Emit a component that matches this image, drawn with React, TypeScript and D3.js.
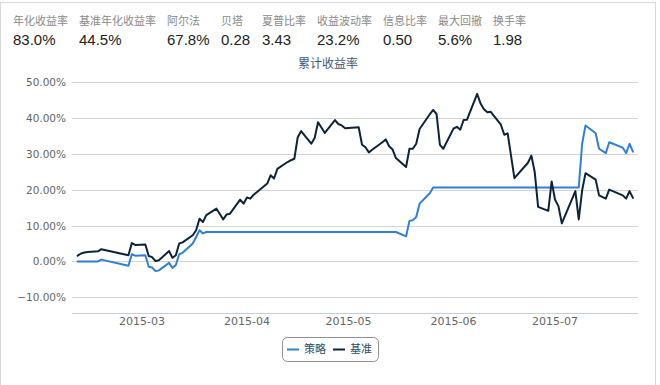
import React from 'react'
import * as d3 from 'd3'

const statLabels = ['年化收益率', '基准年化收益率', '阿尔法', '贝塔', '夏普比率', '收益波动率', '信息比率', '最大回撤', '换手率']
const statValues = ['83.0%', '44.5%', '67.8%', '0.28', '3.43', '23.2%', '0.50', '5.6%', '1.98']

const chartTitle = '累计收益率'
const seriesNames = ['策略', '基准']
const yTicks = [-10, 0, 10, 20, 30, 40, 50]
const monthTicks = ['2015-03-01', '2015-04-01', '2015-05-01', '2015-06-01', '2015-07-01']

// 策略 (strategy), cumulative return in %
const strategyDates = [
  '2015-02-10', '2015-02-16', '2015-02-17', '2015-02-25', '2015-02-26', '2015-02-27',
  '2015-03-02', '2015-03-03', '2015-03-04', '2015-03-05', '2015-03-06', '2015-03-09',
  '2015-03-10', '2015-03-11', '2015-03-12', '2015-03-13', '2015-03-16', '2015-03-17',
  '2015-03-18', '2015-03-19', '2015-03-20', '2015-05-15', '2015-05-18', '2015-05-19',
  '2015-05-20', '2015-05-21', '2015-05-22', '2015-05-25', '2015-05-26', '2015-07-08',
  '2015-07-09', '2015-07-10', '2015-07-13', '2015-07-14', '2015-07-16', '2015-07-17',
  '2015-07-21', '2015-07-22', '2015-07-23', '2015-07-24'
]
const strategyValues = [
  0.0, 0.0, 0.5, -1.2, 2.0, 1.6,
  1.7, -1.5, -1.7, -2.7, -2.5, -0.4,
  -1.8, -1.0, 2.0, 2.4, 5.0, 6.8,
  8.7, 7.8, 8.2, 8.2, 7.0, 11.3,
  11.5, 12.4, 16.1, 19.0, 20.6, 20.6,
  32.8, 37.9, 35.7, 31.4, 30.2, 33.2,
  31.7, 30.2, 32.8, 30.6
]

// 基准 (benchmark), cumulative return in %
const benchmarkDates = [
  '2015-02-10', '2015-02-11', '2015-02-12', '2015-02-13', '2015-02-16', '2015-02-17',
  '2015-02-25', '2015-02-26', '2015-02-27', '2015-03-02', '2015-03-03', '2015-03-04',
  '2015-03-05', '2015-03-06', '2015-03-09', '2015-03-10', '2015-03-11', '2015-03-12',
  '2015-03-13', '2015-03-16', '2015-03-17', '2015-03-18', '2015-03-19', '2015-03-20',
  '2015-03-23', '2015-03-24', '2015-03-25', '2015-03-26', '2015-03-27', '2015-03-30',
  '2015-03-31', '2015-04-01', '2015-04-02', '2015-04-03', '2015-04-07', '2015-04-08',
  '2015-04-09', '2015-04-10', '2015-04-13', '2015-04-14', '2015-04-15', '2015-04-16',
  '2015-04-17', '2015-04-20', '2015-04-21', '2015-04-22', '2015-04-23', '2015-04-24',
  '2015-04-27', '2015-04-28', '2015-04-29', '2015-04-30', '2015-05-04', '2015-05-05',
  '2015-05-06', '2015-05-07', '2015-05-08', '2015-05-11', '2015-05-12', '2015-05-13',
  '2015-05-14', '2015-05-15', '2015-05-18', '2015-05-19', '2015-05-20', '2015-05-21',
  '2015-05-22', '2015-05-25', '2015-05-26', '2015-05-27', '2015-05-28', '2015-05-29',
  '2015-06-01', '2015-06-02', '2015-06-03', '2015-06-04', '2015-06-05', '2015-06-08',
  '2015-06-09', '2015-06-10', '2015-06-11', '2015-06-12', '2015-06-15', '2015-06-16',
  '2015-06-17', '2015-06-19', '2015-06-23', '2015-06-24', '2015-06-25', '2015-06-26',
  '2015-06-29', '2015-06-30', '2015-07-01', '2015-07-02', '2015-07-03', '2015-07-07',
  '2015-07-08', '2015-07-09', '2015-07-10', '2015-07-13', '2015-07-14', '2015-07-16',
  '2015-07-17', '2015-07-21', '2015-07-22', '2015-07-23', '2015-07-24'
]
const benchmarkValues = [
  1.6, 2.2, 2.5, 2.6, 2.8, 3.4,
  1.7, 5.1, 4.6, 4.7, 1.5, 1.2,
  0.1, 0.3, 2.9, 1.0, 1.7, 5.0,
  5.3, 7.3, 8.7, 11.9, 11.0, 12.9,
  14.7, 13.2, 11.7, 13.1, 13.3, 17.2,
  16.1, 17.8, 17.5, 18.6, 21.7, 24.0,
  23.1, 25.8, 27.7, 28.2, 28.6, 34.6,
  36.3, 32.8, 34.4, 38.8, 37.3, 35.8,
  39.4, 38.3, 37.9, 37.1, 37.4, 32.5,
  31.8, 30.4, 31.1, 33.2, 34.0, 32.1,
  31.2, 28.8, 26.3, 31.4, 31.4, 32.8,
  36.9, 41.0, 42.2, 41.1, 32.5, 31.4,
  37.0, 37.5, 36.7, 39.4, 39.5, 46.7,
  44.0, 42.4, 41.6, 41.7, 38.1, 35.3,
  35.7, 23.2, 27.5, 29.5, 24.9, 15.2,
  14.1, 22.3, 17.2, 15.4, 10.6, 19.6,
  11.7, 19.8, 24.6, 22.8, 18.4, 17.5,
  20.0, 18.4, 17.5, 19.6, 17.7
]

const width = 660
const height = 385
const parseDate = d3.utcParse('%Y-%m-%d')
const cjk = '"Noto Sans CJK SC", sans-serif'
const axisFont = '"DejaVu Sans", Verdana, sans-serif'

function drawChart(svgRef: React.RefObject<SVGSVGElement>) {
  const svg = d3.select(svgRef.current)
  svg.selectAll('*').remove()

  // panel frame
  svg.append('rect')
    .attr('x', 0.5).attr('y', 2.5)
    .attr('width', 655).attr('height', 420)
    .attr('fill', '#fff')
    .attr('stroke', '#d8d8d8')

  // header stats
  const statX = [13, 79, 167, 221, 262, 317, 383, 438, 493]
  const stats = svg.append('g')
    .selectAll('g')
    .data(statLabels)
    .join('g')
      .attr('transform', (d, i) => `translate(${statX[i]},0)`)

  stats.append('text')
    .attr('y', 25)
    .attr('font-family', cjk)
    .attr('font-size', 11)
    .attr('fill', '#8a8a8a')
    .text(d => d)

  stats.append('text')
    .attr('y', 45)
    .attr('font-family', '"Liberation Sans", Arial, sans-serif')
    .attr('font-size', 15)
    .attr('fill', '#222')
    .text((d, i) => statValues[i])

  const left = 72
  const right = 638
  const top = 82
  const bottom = 313

  const x = d3.scaleUtc()
    .domain([Date.UTC(2015, 1, 8, 8), Date.UTC(2015, 6, 25, 12)])
    .range([left, right])

  const y = d3.scaleLinear()
    .domain([-10, 50])
    .range([297.3, top])

  // title
  svg.append('text')
    .attr('x', 328).attr('y', 68)
    .attr('text-anchor', 'middle')
    .attr('font-family', cjk)
    .attr('font-size', 12)
    .attr('fill', '#3e576f')
    .text(chartTitle)

  // grid + y labels
  const grid = svg.append('g')
    .selectAll('g')
    .data(yTicks)
    .join('g')
      .attr('transform', d => `translate(0,${Math.round(y(d)) + 0.5})`)

  grid.append('line')
    .attr('x1', left).attr('x2', right)
    .attr('stroke', '#d4d4d4')

  grid.append('text')
    .attr('x', 66)
    .attr('dy', '0.35em')
    .attr('text-anchor', 'end')
    .attr('font-family', axisFont)
    .attr('font-size', 10.5)
    .attr('fill', '#666')
    .text(d => d3.format('.2f')(d) + '%')

  // x axis
  svg.append('line')
    .attr('x1', left).attr('x2', right)
    .attr('y1', bottom + 0.5).attr('y2', bottom + 0.5)
    .attr('stroke', '#c0d0e0')

  svg.append('g')
    .selectAll('text')
    .data(monthTicks.map(d => parseDate(d)!))
    .join('text')
      .attr('x', d => x(d))
      .attr('y', 325)
      .attr('text-anchor', 'middle')
      .attr('font-family', axisFont)
      .attr('font-size', 11)
      .attr('fill', '#666')
      .text(d => d3.utcFormat('%Y-%m')(d))

  // series
  const line = d3.line<[Date, number]>()
    .x(d => x(d[0]))
    .y(d => y(d[1]))

  const series = [
    { name: seriesNames[0], color: '#2f7ed8', points: strategyDates.map((d, i) => [parseDate(d)!, strategyValues[i]] as [Date, number]) },
    { name: seriesNames[1], color: '#0d233a', points: benchmarkDates.map((d, i) => [parseDate(d)!, benchmarkValues[i]] as [Date, number]) }
  ]

  svg.append('g')
    .selectAll('path')
    .data(series)
    .join('path')
      .attr('fill', 'none')
      .attr('stroke', d => d.color)
      .attr('stroke-width', 2)
      .attr('stroke-linejoin', 'round')
      .attr('stroke-linecap', 'round')
      .attr('d', d => line(d.points))

  // legend
  svg.append('rect')
    .attr('x', 282.5).attr('y', 337.5)
    .attr('width', 96).attr('height', 24)
    .attr('rx', 5)
    .attr('fill', 'none')
    .attr('stroke', '#909090')

  const legendX = [287, 333]
  const item = svg.append('g')
    .selectAll('g')
    .data(series)
    .join('g')
      .attr('transform', (d, i) => `translate(${legendX[i]},349.5)`)

  item.append('line')
    .attr('x1', 0).attr('x2', 12)
    .attr('stroke', d => d.color)
    .attr('stroke-width', 2)

  item.append('text')
    .attr('x', 17)
    .attr('dy', '0.35em')
    .attr('font-family', cjk)
    .attr('font-size', 11)
    .attr('fill', '#274b6d')
    .text(d => d.name)

  return svg.node()
}

const App: React.FunctionComponent = () => {
  const svg = React.useRef<SVGSVGElement>(null)

  React.useEffect(() => {
    drawChart(svg)
  }, [svg])

  return (
    <div id="chart">
      <svg ref={svg} width={width} height={height}
        style={{ position: 'absolute', left: 0, top: 0, display: 'block' }} />
    </div>
  )
}

export default App
